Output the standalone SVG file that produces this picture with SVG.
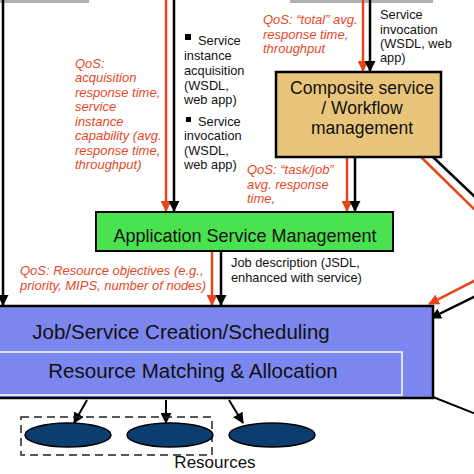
<svg xmlns="http://www.w3.org/2000/svg" width="474" height="474" viewBox="0 0 474 474">
<defs>
<marker id="ab" markerUnits="userSpaceOnUse" markerWidth="11" markerHeight="11" refX="10" refY="5.5" orient="auto"><path d="M0,0 L11,5.5 L0,11 z" fill="#000"/></marker>
<marker id="ar" markerUnits="userSpaceOnUse" markerWidth="11" markerHeight="11" refX="10" refY="5.5" orient="auto"><path d="M0,0 L11,5.5 L0,11 z" fill="#e8441a"/></marker>
<style>
text{font-family:"Liberation Sans",Arial,sans-serif;}
.q{fill:#e5481f;font-style:italic;font-size:13px;}
.b{fill:#111;font-size:12.8px;}
.lb{fill:none;stroke:#000;stroke-width:2.5;}
.lr{fill:none;stroke:#e8441a;stroke-width:2.5;}
.big{font-size:20.5px;fill:#111;}
</style>
</defs>
<rect width="474" height="474" fill="#fff"/>
<rect x="0" y="0" width="89" height="3" fill="#b0b0b0"/>
<rect x="290" y="0" width="143" height="3" fill="#b0b0b0"/>

<g id="connectors">
<line class="lb" x1="3" y1="0" x2="3" y2="305" marker-end="url(#ab)"/>
<line class="lr" x1="166" y1="0" x2="166" y2="211" marker-end="url(#ar)"/>
<line class="lb" x1="174" y1="0" x2="174" y2="211" marker-end="url(#ab)"/>
<line class="lr" x1="363" y1="0" x2="363" y2="71" marker-end="url(#ar)"/>
<line class="lb" x1="370" y1="0" x2="370" y2="71" marker-end="url(#ab)"/>
<line class="lr" x1="347" y1="157" x2="347" y2="211" marker-end="url(#ar)"/>
<line class="lb" x1="355" y1="157" x2="355" y2="211" marker-end="url(#ab)"/>
<line class="lr" x1="212" y1="251" x2="212" y2="305" marker-end="url(#ar)"/>
<line class="lb" x1="221" y1="251" x2="221" y2="305" marker-end="url(#ab)"/>
<line class="lr" x1="421" y1="157" x2="476" y2="211"/>
<line class="lb" x1="433" y1="157" x2="476" y2="198"/>
<line class="lr" x1="476" y1="280" x2="429" y2="304" marker-end="url(#ar)"/>
<line class="lb" x1="476" y1="296" x2="431" y2="318" marker-end="url(#ab)"/>
<line class="lb" x1="433" y1="397" x2="476" y2="414" style="stroke-width:2"/>
<line class="lb" x1="87" y1="400" x2="74" y2="423" marker-end="url(#ab)" style="stroke-width:2"/>
<line class="lb" x1="166" y1="400" x2="166" y2="423" marker-end="url(#ab)" style="stroke-width:2"/>
<line class="lb" x1="229" y1="400" x2="243" y2="423" marker-end="url(#ab)" style="stroke-width:2"/>
</g>

<g id="composite">
<rect x="276" y="72" width="165" height="85" fill="#e8c57a" stroke="#000" stroke-width="2.5"/>
<text x="362" y="94" text-anchor="middle" font-size="17.5" fill="#111">Composite service</text>
<text x="362" y="114" text-anchor="middle" font-size="17.5" fill="#111">/ Workflow</text>
<text x="362" y="134" text-anchor="middle" font-size="17.5" fill="#111">management</text>
</g>

<g id="app">
<rect x="96" y="212" width="297" height="39" fill="#4ae34f" stroke="#000" stroke-width="2"/>
<text x="245" y="242" text-anchor="middle" font-size="18" fill="#111">Application Service Management</text>
</g>

<g id="scheduling">
<rect x="-5" y="306" width="438" height="92" fill="#7b86ee" stroke="#000" stroke-width="2.5"/>
<rect x="-5" y="352" width="407" height="43" fill="none" stroke="#fff" stroke-width="1.5"/>
<text x="181" y="339" text-anchor="middle" class="big">Job/Service Creation/Scheduling</text>
<text x="193" y="378" text-anchor="middle" class="big">Resource Matching &amp; Allocation</text>
</g>

<g id="resources">
<rect x="21" y="417" width="191" height="38" fill="none" stroke="#222" stroke-width="1.5" stroke-dasharray="8,5"/>
<ellipse cx="68" cy="435" rx="43" ry="12" fill="#0b3d6e" stroke="#000" stroke-width="1.5"/>
<ellipse cx="170" cy="435" rx="43" ry="12" fill="#0b3d6e" stroke="#000" stroke-width="1.5"/>
<ellipse cx="272" cy="435" rx="43" ry="12" fill="#0b3d6e" stroke="#000" stroke-width="1.5"/>
<text x="215" y="468" text-anchor="middle" font-size="17" fill="#111">Resources</text>
</g>

<g id="labels">
<text class="q" x="75" y="68">QoS:</text>
<text class="q" x="75" y="82">acquisition</text>
<text class="q" x="75" y="97">response time,</text>
<text class="q" x="75" y="111">service</text>
<text class="q" x="75" y="126">instance</text>
<text class="q" x="75" y="140">capability (avg.</text>
<text class="q" x="75" y="155">response time,</text>
<text class="q" x="75" y="169">throughput)</text>

<rect x="185" y="34" width="6" height="6" fill="#000"/>
<text class="b" x="198" y="45">Service</text>
<text class="b" x="184" y="60">instance</text>
<text class="b" x="184" y="75">acquisition</text>
<text class="b" x="184" y="90">(WSDL,</text>
<text class="b" x="184" y="104">web app)</text>
<rect x="186" y="117" width="5" height="5" fill="#000"/>
<text class="b" x="198" y="126">Service</text>
<text class="b" x="184" y="140">invocation</text>
<text class="b" x="184" y="155">(WSDL,</text>
<text class="b" x="184" y="169">web app)</text>

<text class="q" x="263" y="24">QoS: “total” avg.</text>
<text class="q" x="263" y="39">response time,</text>
<text class="q" x="263" y="53">throughput</text>

<text class="b" x="380" y="19">Service</text>
<text class="b" x="380" y="34">invocation</text>
<text class="b" x="380" y="48">(WSDL, web</text>
<text class="b" x="380" y="62">app)</text>

<text class="q" x="247" y="174">QoS: “task/job”</text>
<text class="q" x="247" y="189">avg. response</text>
<text class="q" x="247" y="203">time,</text>

<text class="q" x="20" y="275">QoS: Resource objectives (e.g.,</text>
<text class="q" x="20" y="290">priority, MIPS, number of nodes)</text>
<text class="b" x="231" y="267">Job description (JSDL,</text>
<text class="b" x="231" y="282">enhanced with service)</text>
</g>
</svg>
